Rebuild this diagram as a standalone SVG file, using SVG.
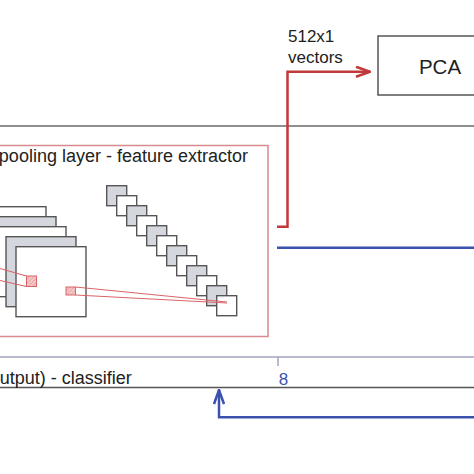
<svg xmlns="http://www.w3.org/2000/svg" width="474" height="474" viewBox="0 0 474 474">
<defs>
<style>
.t{font-family:"Liberation Sans",Arial,sans-serif;font-size:18px;fill:#222}
.map{stroke:#555;stroke-width:1.4}
.g{fill:#d4d8de}
.w{fill:#fff}
.rl{stroke:#d8646a;stroke-width:1.1;fill:none}
.hatch{fill:url(#hp);stroke:#d8646a;stroke-width:1}
</style>
<pattern id="hp" width="3" height="3" patternUnits="userSpaceOnUse" patternTransform="rotate(45)">
<rect width="3" height="3" fill="#f6c9c9"/>
<line x1="0" y1="0" x2="0" y2="3" stroke="#e07a7e" stroke-width="1"/>
</pattern>
<marker id="ar" markerWidth="16" markerHeight="12" refX="15" refY="6" orient="auto" markerUnits="userSpaceOnUse">
<path d="M1,1 L15,6 L1,11" fill="none" stroke="#c0393b" stroke-width="2.5"/>
</marker>
<marker id="ab" markerWidth="16" markerHeight="12" refX="15" refY="6" orient="auto" markerUnits="userSpaceOnUse">
<path d="M1,1 L15,6 L1,11" fill="none" stroke="#3a52ad" stroke-width="2.5"/>
</marker>
</defs>
<rect width="474" height="474" fill="#fff"/>

<g id="separators">
<line x1="0" y1="126" x2="474" y2="126" stroke="#6a6a6a" stroke-width="1.5"/>
<line x1="0" y1="357" x2="474" y2="357" stroke="#a0a4bc" stroke-width="1.5"/>
<line x1="278" y1="357" x2="278" y2="366" stroke="#a0a4bc" stroke-width="1.5"/>
<line x1="0" y1="387.5" x2="474" y2="387.5" stroke="#555" stroke-width="1.5"/>
</g>

<g id="pca">
<rect x="378" y="36" width="110" height="59" fill="#fff" stroke="#555" stroke-width="1.5"/>
<text class="t" x="440" y="74" text-anchor="middle" style="font-size:20.5px">PCA</text>
</g>

<g id="feature-extractor">
<rect x="-2" y="145.5" width="270" height="191" fill="none" stroke="#d88a8c" stroke-width="1.5"/>
<text class="t" x="248" y="162" text-anchor="end">pooling layer - feature extractor</text>
<g id="feature-maps">
<rect class="map w" x="-24" y="206.7" width="70" height="70"/>
<rect class="map g" x="-14" y="216.7" width="70" height="70"/>
<rect class="map w" x="-4" y="226.7" width="70" height="70"/>
<rect class="map g" x="6" y="236.7" width="70" height="70"/>
<rect class="map w" x="16" y="246.7" width="70" height="70"/>
</g>
<g id="pooled-maps">
<rect class="map g" x="106.7" y="185.7" width="20" height="20"/>
<rect class="map w" x="116.7" y="195.7" width="20" height="20"/>
<rect class="map g" x="126.7" y="205.7" width="20" height="20"/>
<rect class="map w" x="136.7" y="215.7" width="20" height="20"/>
<rect class="map g" x="146.7" y="225.7" width="20" height="20"/>
<rect class="map w" x="156.7" y="235.7" width="20" height="20"/>
<rect class="map g" x="166.7" y="245.7" width="20" height="20"/>
<rect class="map w" x="176.7" y="255.7" width="20" height="20"/>
<rect class="map g" x="186.7" y="265.7" width="20" height="20"/>
<rect class="map w" x="196.7" y="275.7" width="20" height="20"/>
<rect class="map g" x="206.7" y="285.7" width="20" height="20"/>
<rect class="map w" x="216.7" y="295.7" width="20" height="20"/>
</g>
<g id="receptive-fields">
<line class="rl" x1="0" y1="268.5" x2="26.5" y2="276"/>
<line class="rl" x1="0" y1="280.5" x2="26.5" y2="286.5"/>
<rect class="hatch" x="26.5" y="276" width="10" height="10.5"/>
<line class="rl" x1="75.5" y1="287" x2="227" y2="302"/>
<line class="rl" x1="75.5" y1="295" x2="227" y2="303"/>
<rect class="hatch" x="66" y="287" width="9.5" height="8"/>
</g>
</g>

<g id="classifier">
<text class="t" x="131.7" y="383.5" text-anchor="end">utput) - classifier</text>
<text class="t" x="283.5" y="385" text-anchor="middle" style="font-size:17px;fill:#3a52ad">8</text>
</g>

<g id="labels">
<text class="t" x="288" y="41.5" style="font-size:17px">512x1</text>
<text class="t" x="288" y="62.5" style="font-size:17px">vectors</text>
</g>

<g id="connectors">
<polyline points="277,226.7 287.5,226.7 287.5,71.7 370,71.7" fill="none" stroke="#c0393b" stroke-width="2.5" marker-end="url(#ar)"/>
<line x1="277" y1="247.7" x2="474" y2="247.7" stroke="#3a52ad" stroke-width="2.5"/>
<polyline points="474,417.3 219,417.3 219,390" fill="none" stroke="#3a52ad" stroke-width="2.5" marker-end="url(#ab)"/>
</g>
</svg>
